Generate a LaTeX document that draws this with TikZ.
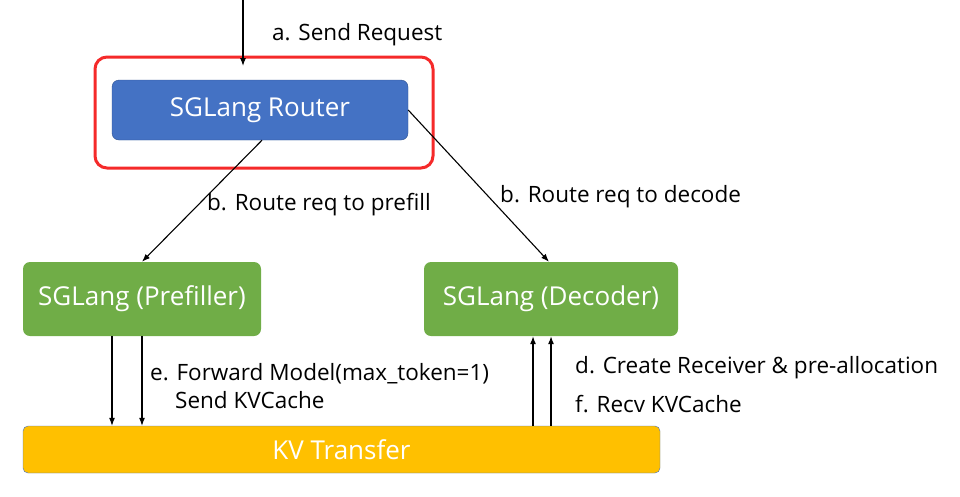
\documentclass[tikz,border=0pt]{standalone}
\usepackage{fontspec}
\setmainfont{Open Sans}
\usepackage{xcolor}
\usepackage{tikz}
\usetikzlibrary{calc, positioning, arrows.meta}

\definecolor{routerblue}{HTML}{4472C4}
\definecolor{routeredge}{HTML}{2F528F}
\definecolor{workergreen}{HTML}{70AD47}
\definecolor{kvyellow}{HTML}{FFC000}
\definecolor{framered}{HTML}{F52A2A}

\begin{document}
\begin{tikzpicture}[>={Latex[length=8pt,width=6pt]}, x=1pt, y=-1pt,
    box/.style={rounded corners=7pt, text=white, inner sep=0pt,
        font=\fontsize{26}{30}\selectfont},
    lbl/.style={anchor=west, inner sep=0pt, font=\fontsize{22.5}{26}\selectfont},
    link/.style={->, line width=1.1pt}]
    \useasboundingbox (0,0) rectangle (960,496);

    % Router và khung đỏ
    \draw[framered, line width=3pt, rounded corners=12pt] (95,57) rectangle (433,168);
    \node[box, fill=routerblue, draw=routeredge, minimum width=296pt, minimum height=60pt]
        (router) at (260,110) {SGLang Router};

    % Các worker
    \node[box, fill=workergreen, minimum width=238pt, minimum height=74pt]
        (prefill) at (142,299) {SGLang (Prefiller)};
    \node[box, fill=workergreen, minimum width=254pt, minimum height=74pt]
        (decoder) at (551,299) {SGLang (Decoder)};
    \node[box, fill=kvyellow, draw=routerblue, rounded corners=5pt,
        minimum width=637pt, minimum height=47pt]
        (kv) at (341.5,449.5) {KV Transfer};

    % Mũi tên
    \coordinate (reqin) at (243,0);
    \coordinate (reqend) at (243,66);
    \draw[link] (reqin) -- (reqend);
    \draw[link] ([xshift=2pt]router.south) -- (prefill.north);
    \draw[link] (router.east) -- ([xshift=-2pt]decoder.north);
    \foreach \dx in {-30,0}
        \draw[link] ([xshift=\dx pt]prefill.south) -- ([xshift=\dx pt]prefill.south |- kv.north);
    \foreach \dx in {-18,0}
        \draw[link] ([xshift=\dx pt]decoder.south |- kv.north) -- ([xshift=\dx pt]decoder.south);

    % Nhãn
    \node[lbl] (send) at (272,35) {a. Send Request};
    \node[lbl] (toprefill) at (207,205) {b. Route req to prefill};
    \node[lbl] (todecode) at (500,197) {b. Route req to decode};
    \node[lbl] (forward) at (150,374) {e. Forward Model(max\_token=1)};
    \node[lbl] (sendkv) at (175,400) {Send KVCache};
    \node[lbl] (create) at (575,368) {d. Create Receiver \& pre-allocation};
    \node[lbl] (recv) at (575,404) {f. Recv KVCache};
\end{tikzpicture}
\end{document}
